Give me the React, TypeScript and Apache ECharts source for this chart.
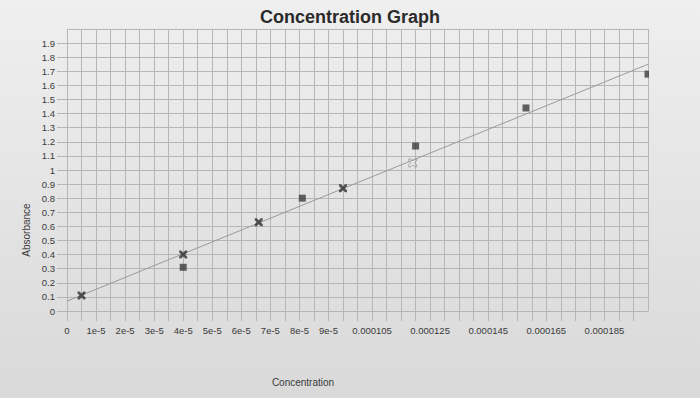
import React, { useEffect, useRef } from "react";
import * as echarts from "echarts";

const titleText = "Concentration Graph";
const xAxisName = "Concentration";
const yAxisName = "Absorbance";

// tick label values and their printed texts on the x axis
const xLabelValues = [0, 1e-5, 2e-5, 3e-5, 4e-5, 5e-5, 6e-5, 7e-5, 8e-5, 9e-5, 1.05e-4, 1.25e-4, 1.45e-4, 1.65e-4, 1.85e-4];
const xLabelTexts = ["0", "1e-5", "2e-5", "3e-5", "4e-5", "5e-5", "6e-5", "7e-5", "8e-5", "9e-5", "0.000105", "0.000125", "0.000145", "0.000165", "0.000185"];

// series 1: X markers
const crossX = [5e-6, 4e-5, 6.6e-5, 9.5e-5];
const crossY = [0.11, 0.4, 0.63, 0.87];
// faded X marker
const fadedX = [1.19e-4];
const fadedY = [1.05];
// series 2: square markers
const squareX = [4e-5, 8.1e-5, 1.2e-4, 1.58e-4, 2e-4];
const squareY = [0.31, 0.8, 1.17, 1.44, 1.68];
// trendline end points
const trendX = [0, 2e-4];
const trendY = [0.07, 1.75];

const crossPath =
  "path://M0,0 L2.5,0 L5,2.5 L7.5,0 L10,0 L10,2.5 L7.5,5 L10,7.5 L10,10 L7.5,10 L5,7.5 L2.5,10 L0,10 L0,7.5 L2.5,5 L0,2.5 Z";

const zip = (xs: number[], ys: number[]) => xs.map((x, i) => [x, ys[i]]);

export default function App() {
  const ref = useRef<HTMLDivElement>(null);
  useEffect(() => {
    if (!ref.current) return;
    const chart = echarts.init(ref.current, null, { renderer: "svg" });
    const textColor = "#3a3a3a";
    const gridColor = "#b6b6b6";
    chart.setOption({
      animation: false,
      backgroundColor: {
        type: "linear",
        x: 0,
        y: 0,
        x2: 0,
        y2: 1,
        colorStops: [
          { offset: 0, color: "#efefef" },
          { offset: 1, color: "#d9d9d9" },
        ],
      },
      title: {
        text: titleText,
        left: "center",
        top: 3,
        textStyle: { fontFamily: "Liberation Sans", fontSize: 18, fontWeight: "bold", color: "#2a2a2a" },
      },
      graphic: [
        {
          type: "text",
          x: 26,
          y: 230,
          rotation: Math.PI / 2,
          style: {
            text: yAxisName,
            fontFamily: "Liberation Sans",
            fontSize: 10,
            fill: textColor,
            align: "center",
            verticalAlign: "middle",
          },
        },
        {
          type: "text",
          x: 303,
          y: 382,
          style: {
            text: xAxisName,
            fontFamily: "Liberation Sans",
            fontSize: 10,
            fill: textColor,
            align: "center",
            verticalAlign: "middle",
          },
        },
        {
          type: "rect",
          z: 100,
          shape: { x: 649, y: 55, width: 51, height: 35 },
          style: { fill: "#ebebeb" },
        },
      ],
      grid: { left: 67, right: 52, top: 29, bottom: 87, containLabel: false },
      xAxis: {
        type: "value",
        min: 0,
        max: 2e-4,
        interval: 5e-6,
        axisLine: { show: true, lineStyle: { color: gridColor } },
        axisTick: { show: true, length: 10, lineStyle: { color: gridColor } },
        splitLine: { show: true, lineStyle: { color: gridColor, width: 1 } },
        axisLabel: {
          interval: 0,
          hideOverlap: false,
          showMaxLabel: false,
          margin: 14,
          fontFamily: "Liberation Sans",
          fontSize: 9.5,
          color: textColor,
          formatter: (v: number) => {
            const i = xLabelValues.findIndex((t) => Math.abs(t - v) < 1e-9);
            return i >= 0 ? xLabelTexts[i] : "";
          },
        },
      },
      yAxis: {
        type: "value",
        min: 0,
        max: 2,
        interval: 0.1,
        axisLine: { show: true, lineStyle: { color: gridColor } },
        axisTick: { show: true, length: 10, lineStyle: { color: gridColor } },
        splitLine: { show: true, lineStyle: { color: gridColor, width: 1 } },
        axisLabel: {
          showMaxLabel: false,
          margin: 12,
          fontFamily: "Liberation Sans",
          fontSize: 9.5,
          color: textColor,
        },
      },
      series: [
        {
          type: "line",
          data: zip(trendX, trendY),
          symbol: "none",
          lineStyle: { color: "#9a9a9a", width: 1 },
          silent: true,
          z: 1,
        },
        {
          type: "scatter",
          name: "Cross",
          data: zip(crossX, crossY),
          symbol: crossPath,
          symbolSize: 8,
          itemStyle: { color: "#303030" },
          z: 3,
        },
        {
          type: "scatter",
          name: "Faded",
          data: zip(fadedX, fadedY),
          symbol: crossPath,
          symbolSize: 8,
          itemStyle: { color: "transparent", borderColor: "#9a9a9a", borderWidth: 1 },
          z: 3,
        },
        {
          type: "scatter",
          name: "Square",
          data: zip(squareX, squareY),
          symbol: "rect",
          symbolSize: 7,
          itemStyle: { color: "#3c3c3c" },
          z: 3,
        },
      ],
    });
    return () => chart.dispose();
  }, []);
  return (
    <div
      ref={ref}
      style={{ position: "fixed", left: 0, top: 0, width: 700, height: 398 }}
    />
  );
}
